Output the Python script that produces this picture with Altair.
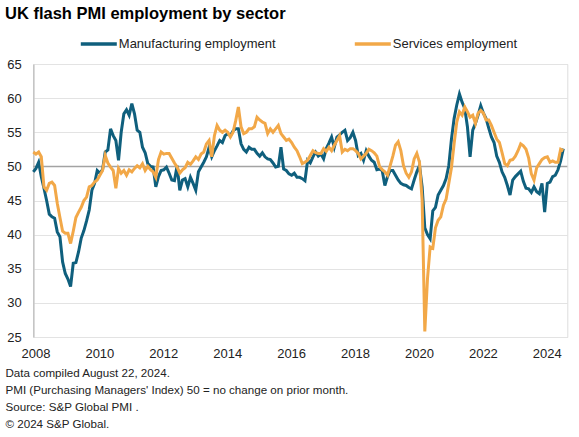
import altair as alt
import pandas as pd

# ---- data (monthly, Jan 2008 .. Aug 2024) ----
start_year = 2008
series_names = ["Manufacturing employment", "Services employment"]

manufacturing = [
    49.2, 49.7, 50.6, 48.5, 46.8, 45.0, 43.0, 42.6, 42.4, 40.4, 39.7, 36.0,  # 2008
    34.3, 33.5, 32.4, 35.8, 35.9, 37.5, 39.5, 40.6, 42.0, 43.6, 46.5, 47.5,  # 2009
    49.4, 49.0, 49.5, 52.1, 52.4, 55.5, 54.5, 53.8, 50.9, 55.0, 57.7, 58.3,  # 2010
    57.5, 59.2, 57.7, 55.3, 55.0, 52.8, 52.0, 50.4, 50.0, 49.9, 47.0, 48.5,  # 2011
    49.4, 49.5, 49.9, 49.0, 48.0, 47.9, 50.1, 46.5, 48.0, 48.2, 47.0, 48.4,  # 2012
    47.5, 46.5, 49.2, 49.9, 50.6, 51.4, 52.8, 51.4, 52.3, 53.0, 53.8, 53.5,  # 2013
    54.5, 54.8, 54.5, 55.2, 55.5, 55.5, 53.3, 52.5, 52.1, 52.8, 52.5, 52.5,  # 2014
    51.9, 51.5, 52.0, 51.4, 51.1, 51.0, 50.5, 49.9, 50.0, 52.8, 49.6, 49.4,  # 2015
    48.9, 48.7, 49.0, 48.4, 48.4, 48.2, 47.9, 50.9, 50.5, 51.4, 52.1, 51.5,  # 2016
    51.8, 51.1, 52.6, 53.4, 54.3, 52.8, 54.3, 54.6, 55.0, 55.3, 53.8, 54.2,  # 2017
    55.0, 53.8, 51.6, 51.9, 50.9, 52.3, 51.5, 50.9, 50.6, 49.5, 49.6, 49.4,  # 2018
    47.2, 48.5, 49.4, 49.4, 48.7, 48.0, 47.5, 47.3, 47.2, 46.9, 46.7, 48.0,  # 2019
    49.2, 50.1, 47.0, 41.0, 40.0, 39.4, 43.5, 44.0, 45.8, 46.5, 47.2, 48.2,  # 2020
    50.1, 54.0, 57.0, 59.0, 60.6, 59.4, 58.5, 55.8, 51.4, 55.3, 56.3, 57.5,  # 2021
    58.9, 57.8, 57.0, 55.6, 54.3, 53.5, 51.5, 50.6, 49.2, 48.4, 47.2, 45.8,  # 2022
    48.0, 48.5, 48.9, 49.3, 47.8, 46.8, 46.7, 46.2, 47.0, 46.3, 46.0, 47.5,  # 2023
    43.3, 47.5, 47.7, 48.5, 48.7, 49.5, 50.8, 52.6,                          # 2024
]

services = [
    52.1, 51.8, 52.1, 51.4, 47.0, 46.5, 47.5, 47.7, 47.2, 44.6, 42.5, 40.5,  # 2008
    40.2, 40.2, 38.7, 40.5, 42.5, 43.3, 44.0, 45.0, 45.5, 47.0, 47.2, 47.7,  # 2009
    48.0, 48.7, 49.4, 51.6, 50.5, 49.9, 49.4, 46.8, 49.7, 49.0, 49.4, 48.7,  # 2010
    49.5, 49.2, 49.7, 50.1, 49.8, 50.4, 49.4, 50.0, 49.5, 49.2, 48.4, 51.0,  # 2011
    52.1, 51.8, 51.9, 51.9, 51.2, 50.5, 49.9, 49.0, 49.5, 49.8, 50.6, 50.3,  # 2012
    50.8, 51.4, 51.0, 51.8, 52.1, 53.3, 53.8, 51.4, 54.5, 56.0, 55.3, 55.0,  # 2013
    55.3, 55.0, 54.3, 55.0, 56.7, 58.7, 55.8, 54.8, 55.0, 55.5, 55.5, 55.8,  # 2014
    57.2, 56.8, 56.5, 56.3, 54.8, 55.5, 55.0, 55.5, 56.0, 54.8, 54.3, 53.8,  # 2015
    54.0, 53.5, 52.8, 52.3, 51.4, 50.4, 50.6, 50.9, 51.6, 52.3, 52.0, 51.9,  # 2016
    51.9, 52.6, 52.2, 52.8, 52.3, 53.1, 53.8, 54.5, 52.1, 52.5, 52.3, 52.6,  # 2017
    52.6, 52.3, 51.9, 51.1, 51.5, 51.9, 52.5, 52.3, 52.0, 51.5, 50.0, 49.5,  # 2018
    49.2, 48.7, 50.1, 51.5, 53.1, 53.6, 52.3, 50.1, 49.0, 48.4, 49.2, 51.1,  # 2019
    51.9, 50.6, 45.0, 25.8, 33.5, 38.2, 38.0, 41.0, 42.1, 42.6, 44.3, 45.2,  # 2020
    47.5, 49.8, 53.3, 56.5, 58.0, 57.5, 58.7, 58.0, 57.2, 57.5, 56.3, 57.8,  # 2021
    58.2, 57.8, 56.8, 56.8, 56.0, 55.0, 54.0, 53.5, 52.0, 50.4, 50.1, 50.9,  # 2022
    51.0, 51.5, 52.3, 53.3, 53.0, 52.5, 51.2, 48.9, 48.0, 49.8, 50.4, 51.0,  # 2023
    51.3, 51.4, 50.6, 50.8, 50.6, 50.6, 52.5, 52.3,                          # 2024
]

year_labels = list(range(2008, 2025, 2))
y_ticks = [25, 30, 35, 40, 45, 50, 55, 60, 65]
reference_level = [50]
footnotes = [
    "Data compiled August 22, 2024.",
    "PMI (Purchasing Managers' Index) 50 = no change on prior month.",
    "Source: S&P Global PMI .",
    "\u00a9 2024 S&P Global.",
]

TEAL = "#0f5f7d"
ORANGE = "#f2a848"
FONT = "Liberation Sans"
TXT = "#222222"

df_m = pd.DataFrame({"m": list(range(len(manufacturing))), "value": manufacturing, "series": series_names[0]})
df_s = pd.DataFrame({"m": list(range(len(services))), "value": services, "series": series_names[1]})
df_r = pd.DataFrame({"value": reference_level})

label_pos = [12 * (yr - start_year) + 0.8 for yr in year_labels]

x_enc = alt.X(
    "m:Q",
    scale=alt.Scale(domain=[0, 200.5], nice=False, zero=False),
    axis=alt.Axis(
        values=label_pos,
        labelExpr=f"'' + ({start_year} + round((datum.value - 0.8) / 12))",
        grid=False, domain=False, ticks=False,
        labelPadding=10, labelFont=FONT, labelFontSize=13, labelColor=TXT,
        labelOverlap=False, labelFlush=False,
        title=footnotes,
        titleFont=FONT, titleFontSize=11.6, titleFontWeight="normal",
        titleColor=TXT, titleAlign="left", titleAnchor="start",
        titleBaseline="top", titleX=-28.3, titleY=30, titleLineHeight=17.3,
    ),
)
y_axis = alt.Axis(
    values=y_ticks, title=None,
    grid=True, gridColor="#e3e3e3", gridWidth=1,
    domain=True, domainColor="#c4c4c4", domainWidth=1.5,
    ticks=False, tickSize=0, labelPadding=12, labelOverlap=False,
    labelFont=FONT, labelFontSize=13, labelColor=TXT,
)
y_scale = alt.Scale(domain=[25, 65], nice=False, zero=False)
y_enc = alt.Y("value:Q", scale=y_scale, axis=y_axis)

color_enc = alt.Color(
    "series:N",
    scale=alt.Scale(domain=series_names, range=[TEAL, ORANGE]),
    legend=alt.Legend(
        title=None, orient="none", legendX=45.5, legendY=-40,
        direction="horizontal", columns=2, columnPadding=72,
        symbolType="stroke", symbolSize=1296, symbolStrokeWidth=3.5,
        labelFont=FONT, labelFontSize=13, labelColor=TXT,
        labelOffset=0, labelLimit=400, padding=0,
    ),
)

rule = alt.Chart(df_r).mark_rule(color="#a3a3a3", strokeWidth=1.5).encode(y=y_enc)

line_m = alt.Chart(df_m).mark_line(strokeWidth=3).encode(x=x_enc, y=y_enc, color=color_enc)
line_s = alt.Chart(df_s).mark_line(strokeWidth=3).encode(x=x_enc, y=y_enc, color=color_enc)

chart = alt.layer(rule, line_m, line_s).properties(
    width=534,
    height=273,
    autosize=alt.AutoSizeParams(type="none"),
    padding={"left": 33.3, "top": 64, "right": 11.7, "bottom": 100},
    title=alt.Title(
        "UK flash PMI employment by sector",
        anchor="start", frame="group", orient="top",
        font=FONT, fontSize=16.5, fontWeight="bold", color="#000000",
        baseline="top", dx=-28.3, dy=-2, offset=0,
    ),
).configure_view(stroke=None).configure_axisY(labelOverlap=False).configure(background="white")

chart.save("out.html", embed_options={"renderer": "svg", "actions": False})
